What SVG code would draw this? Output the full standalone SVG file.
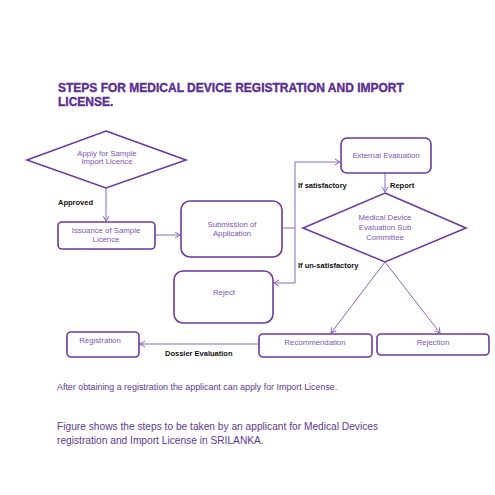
<svg xmlns="http://www.w3.org/2000/svg" width="495" height="495" viewBox="0 0 495 495">
<defs>
<style>
.box{fill:#fff;stroke:#6b3a9e;stroke-width:1.6}
.t{font-family:"Liberation Sans",Arial,sans-serif;font-size:7.8px;fill:#7d55b0;text-anchor:middle}
.lbl{font-family:"Liberation Sans",Arial,sans-serif;font-size:7.5px;font-weight:bold;fill:#111}
.ln{fill:none;stroke:#8a68b8;stroke-width:1}
.title{font-family:"Liberation Sans",Arial,sans-serif;font-size:12px;font-weight:bold;fill:#5a2d91;stroke:#5a2d91;stroke-width:0.35}
.foot{font-family:"Liberation Sans",Arial,sans-serif;fill:#5e3a94}
</style>
<marker id="ar" markerWidth="8" markerHeight="8" refX="6" refY="4" orient="auto" markerUnits="userSpaceOnUse">
<path d="M1,1 L6,4 L1,7" fill="none" stroke="#8a68b8" stroke-width="1"/>
</marker>
</defs>
<rect width="495" height="495" fill="#fff"/>
<text class="title" x="58" y="92">STEPS FOR MEDICAL DEVICE REGISTRATION AND IMPORT</text>
<text class="title" x="58" y="106">LICENSE.</text>

<g id="connectors">
<path class="ln" d="M106,188 V221" marker-end="url(#ar)"/>
<path class="ln" d="M155,235 H180" marker-end="url(#ar)"/>
<path class="ln" d="M282,228 H295"/>
<path class="ln" d="M295,162 V283"/>
<path class="ln" d="M295,162 H340" marker-end="url(#ar)"/>
<path class="ln" d="M295,283 H274" marker-end="url(#ar)"/>
<path class="ln" d="M385,173 V192" marker-end="url(#ar)"/>
<path class="ln" d="M385,262 L331,333" marker-end="url(#ar)"/>
<path class="ln" d="M385,262 L440,333" marker-end="url(#ar)"/>
<path class="ln" d="M259,344 H140" marker-end="url(#ar)"/>
<text class="lbl" x="58" y="205">Approved</text>
<text class="lbl" x="298" y="188">If satisfactory</text>
<text class="lbl" x="390" y="188">Report</text>
<text class="lbl" x="298" y="268">If un-satisfactory</text>
<text class="lbl" x="165" y="356">Dossier Evaluation</text>
</g>

<g id="apply">
<polygon class="box" points="106,131 186,160 106,188 27,160"/>
<text class="t" x="107" y="156">Apply for Sample</text>
<text class="t" x="107" y="164">Import Licence</text>
</g>
<g id="issuance">
<rect class="box" x="58" y="222" width="97" height="27" rx="4"/>
<text class="t" x="106" y="233">Issuance of Sample</text>
<text class="t" x="106" y="242">Licence</text>
</g>
<g id="submission">
<rect class="box" x="181" y="201" width="101" height="56" rx="9"/>
<text class="t" x="232" y="227">Submission of</text>
<text class="t" x="232" y="236">Application</text>
</g>
<g id="external">
<rect class="box" x="341" y="138" width="90" height="35" rx="6"/>
<text class="t" x="386" y="158">External Evaluation</text>
</g>
<g id="committee">
<polygon class="box" points="385,193 466,228 385,262 303,228"/>
<text class="t" x="385" y="220">Medical Device</text>
<text class="t" x="385" y="230">Evaluation Sub</text>
<text class="t" x="385" y="240">Committee</text>
</g>
<g id="reject">
<rect class="box" x="174" y="271" width="99" height="52" rx="9"/>
<text class="t" x="224" y="295">Reject</text>
</g>
<g id="registration">
<rect class="box" x="67" y="332" width="72" height="25" rx="4"/>
<text class="t" x="100" y="343">Registration</text>
</g>
<g id="recommendation">
<rect class="box" x="259" y="334" width="113" height="23" rx="4"/>
<text class="t" x="315" y="345">Recommendation</text>
</g>
<g id="rejection">
<rect class="box" x="377" y="334" width="112" height="21" rx="4"/>
<text class="t" x="433" y="345">Rejection</text>
</g>

<text class="foot" x="57" y="390" font-size="8.9">After obtaining a registration the applicant can apply for Import License.</text>
<text class="foot" x="57" y="430" font-size="10.2">Figure shows the steps to be taken by an applicant for Medical Devices</text>
<text class="foot" x="57" y="444" font-size="10.2">registration and Import License in SRILANKA.</text>
</svg>
